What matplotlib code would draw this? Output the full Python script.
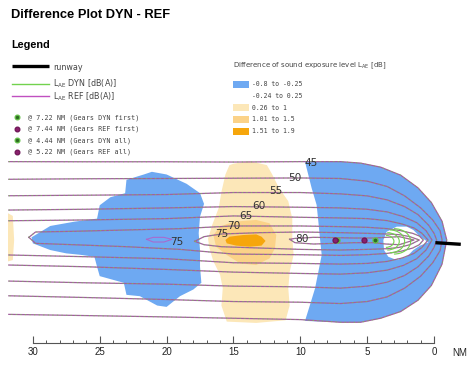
import numpy as np
import matplotlib.pyplot as plt
from matplotlib.lines import Line2D
from matplotlib.patches import Polygon, Rectangle, Arc

W, H = 474, 366

# contour levels LAE [dB(A)]; nodes in NM (x = distance to threshold, y = lateral)
# each contour: upper side and lower side share the same x nodes, last node is the tip
levels = [45, 50, 55, 60, 65, 70, 75, 80]
contour_x = {
    45: [31.8, 26, 20, 15, 10, 7, 5.5, 4, 2.5, 1.2, 0.2, -0.6, -0.95],
    50: [31.8, 26, 20, 15, 10, 7, 5, 3.5, 2.2, 1.0, 0.1, -0.45, -0.6],
    55: [31.8, 26, 20, 15, 10, 7, 5, 3.5, 2.2, 1.2, 0.4, 0, -0.2],
    60: [31.8, 26, 20, 15, 10, 7, 5, 3.5, 2.3, 1.3, 0.6, 0.15],
    65: [31.8, 26, 20, 15, 10, 7, 5, 3.5, 2.4, 1.5, 0.9, 0.45],
    70: [30.3, 29.8, 27, 23, 19, 15, 10, 7, 5, 3.5, 2.5, 1.6, 1.1, 0.8],
    75: [17.9, 17.2, 15.9, 13, 10, 7, 5, 3.5, 2.6, 1.8, 1.1],
    80: [10.8, 10.4, 9, 7.5, 6, 4.5, 3.6, 2.6, 1.5],
}
contour_up = {
    45: [5.86, 5.85, 5.85, 5.83, 5.86, 5.86, 5.75, 5.45, 4.85, 3.9, 2.8, 1.4, 0],
    50: [4.54, 4.58, 4.6, 4.62, 4.64, 4.6, 4.4, 4.0, 3.3, 2.4, 1.5, 0.7, 0],
    55: [3.31, 3.35, 3.4, 3.55, 3.55, 3.45, 3.3, 3.0, 2.5, 1.9, 1.1, 0.5, 0],
    60: [2.24, 2.3, 2.4, 2.5, 2.45, 2.4, 2.3, 2.1, 1.75, 1.3, 0.7, 0],
    65: [1.44, 1.5, 1.6, 1.8, 1.7, 1.65, 1.6, 1.45, 1.2, 0.9, 0.5, 0],
    70: [0.2, 0.6, 0.65, 0.75, 0.85, 1.05, 1.05, 1.0, 0.95, 0.85, 0.7, 0.5, 0.3, 0],
    75: [-0.1, 0.25, 0.45, 0.55, 0.6, 0.55, 0.5, 0.45, 0.4, 0.25, 0],
    80: [0.05, 0.12, 0.2, 0.18, 0.15, 0.15, 0.2, 0.25, 0],
}
contour_lo = {
    45: [-5.56, -5.65, -5.75, -5.85, -5.95, -6.15, -6.15, -5.85, -5.35, -4.5, -3.4, -1.8, 0],
    50: [-4.17, -4.3, -4.45, -4.6, -4.65, -4.75, -4.6, -4.25, -3.6, -2.7, -1.7, -0.8, 0],
    55: [-3.07, -3.2, -3.3, -3.45, -3.5, -3.6, -3.45, -3.15, -2.65, -2.0, -1.2, -0.55, 0],
    60: [-1.87, -2.0, -2.2, -2.4, -2.5, -2.55, -2.45, -2.25, -1.9, -1.4, -0.75, 0],
    65: [-1.12, -1.25, -1.4, -1.7, -1.75, -1.8, -1.75, -1.6, -1.35, -1.0, -0.55, 0],
    70: [0.2, -0.25, -0.35, -0.5, -0.7, -1.05, -1.1, -1.15, -1.1, -1.0, -0.85, -0.6, -0.35, 0],
    75: [-0.1, -0.35, -0.5, -0.6, -0.7, -0.75, -0.7, -0.65, -0.55, -0.35, 0],
    80: [0.05, -0.2, -0.3, -0.25, -0.2, -0.2, -0.3, -0.35, 0],
}
# extra REF-only 75 island
ref75_x = [21.5, 21.0, 20.2, 19.6, 20.2, 21.0, 21.5]
ref75_y = [0.05, 0.2, 0.2, 0.05, -0.15, -0.15, 0.05]

# label positions (NM)
label_text = ['45', '50', '55', '60', '65', '70', '75', '75', '80']
label_x = [9.2, 10.4, 11.8, 13.1, 14.06, 14.96, 15.9, 19.2, 9.87]
label_y = [5.75, 4.67, 3.63, 2.54, 1.8, 1.05, 0.45, -0.15, 0.11]

# DYN-only high level arcs near threshold
arc_arm_x = [3.6, 3.5, 3.3, 3.0]
arc_tip_x = [3.0, 2.6, 2.2, 1.75]
arc_half = [0.45, 0.65, 0.85, 0.95]

# difference areas (NM)
blue_left_x = [30.1, 28.7, 26.9, 25.2, 25.0, 24.2, 23.1, 23.0, 21.7, 21.1, 20.0, 18.5, 17.5, 17.2,
               17.5, 17.6, 17.5, 17.5, 17.4, 18.0, 19.0, 20.0, 20.7, 22.0, 23.0, 23.2, 25.0, 25.2,
               25.4, 26.5, 27.5, 28.7, 30.0]
blue_left_y = [0.2, 1.05, 1.37, 1.6, 2.6, 3.2, 3.5, 4.5, 4.9, 5.1, 4.9, 4.2, 3.5, 2.7,
               1.75, 0.5, -0.75, -2.0, -3.2, -3.7, -4.2, -5.0, -4.9, -4.2, -4.1, -3.2, -2.7, -2.0,
               -1.25, -1.1, -1.0, -0.75, -0.25]
blue_right_x = [9.65, 9.4, 9.15, 8.78, 8.65, 8.53, 8.4, 8.65, 8.9, 9.28, 9.65, 7.0, 5.5, 4, 2.5,
                1.2, 0.2, -0.6, -0.95, -0.6, 0.2, 1.2, 2.5, 4, 5.5, 7.0]
blue_right_y = [5.86, 4.86, 3.87, 2.62, 1.37, 0.12, -1.12, -2.37, -3.62, -4.86, -6.05, -6.15, -6.15,
                -5.85, -5.35, -4.5, -3.4, -1.8, 0, 1.4, 2.8, 3.9, 4.85, 5.45, 5.75, 5.86]
white_x = [3.79, 3.54, 2.79, 2.04, 1.55, 1.05, 0.42, 1.05, 1.55, 2.04, 2.79, 3.42, 3.74]
white_y = [0, 0.62, 1.0, 1.0, 0.75, 0.25, -0.17, -0.42, -0.75, -1.25, -1.5, -1.25, -0.75]
light_x = [15.0, 13.8, 12.5, 12.1, 11.6, 10.9, 10.6, 10.6, 10.5, 10.8, 10.9, 10.8, 11.1, 13.3, 15.5,
           15.9, 15.8, 16.0, 16.5, 16.8, 16.9, 16.6, 16.1, 15.9, 15.6, 15.3]
light_y = [5.7, 5.9, 5.6, 4.9, 3.9, 2.9, 1.6, 0.1, -1.1, -2.4, -3.6, -4.9, -6.0, -6.2, -6.1,
           -4.9, -3.6, -2.6, -1.6, -0.6, 0.1, 1.1, 2.4, 3.6, 4.9, 5.6]
light_edge_x = [31.86, 31.5, 31.4, 31.5, 31.86]
light_edge_y = [2.0, 1.8, 0.0, -1.5, -1.6]
mid_x = [16.5, 16.0, 15.0, 13.3, 12.3, 11.8, 11.9, 12.3, 13.3, 14.5, 15.5, 16.3]
mid_y = [0.37, 1.0, 1.37, 1.5, 1.25, 0.37, -0.62, -1.37, -1.87, -1.75, -1.12, -0.5]
orange_x = [15.6, 15.3, 14.3, 13.3, 12.9, 12.6, 12.9, 13.8, 14.8, 15.5]
orange_y = [0, 0.25, 0.37, 0.42, 0.25, -0.07, -0.42, -0.5, -0.42, -0.25]

class_labels = ['-0.8 to -0.25', '-0.24 to 0.25', '0.26 to 1', '1.01 to 1.5', '1.51 to 1.9']
class_colors = ['#6ea9f2', '#ffffff', '#fce7b8', '#fbd288', '#f6a60c']

# gear extension points
gear_nm = [7.22, 7.44, 4.44, 5.22]
gear_labels = ['@ 7.22 NM (Gears DYN first)', '@ 7.44 NM (Gears REF first)',
               '@ 4.44 NM (Gears DYN all)', '@ 5.22 NM (Gears REF all)']
gear_case = ['DYN', 'REF', 'DYN', 'REF']

runway_x = [-0.1, -2.0]
runway_y = [-0.2, -0.32]

GREEN = '#72d24e'
MAGENTA = '#c050c0'
LINE_REF = '#a2609e'
dot_face = {'DYN': '#2f6b22', 'REF': '#8a1f6c'}
dot_edge = {'DYN': '#62c048', 'REF': '#6e1556'}
TXT = '#444444'


def fx(px):
    return px / W


def fy(py):
    return 1 - py / H


fig = plt.figure(figsize=(W / 100, H / 100), dpi=100)
ax = fig.add_axes([8 / W, (H - 343) / H, 458 / W, 193 / H])
ax.set_xlim(31.86, -2.39)
ax.set_ylim(-7.70, 6.73)

# areas
ax.add_patch(Polygon(np.column_stack([light_x, light_y]), closed=True, fc=class_colors[2], ec='none', zorder=1))
ax.add_patch(Polygon(np.column_stack([light_edge_x, light_edge_y]), closed=True, fc=class_colors[2], ec='none', zorder=1))
ax.add_patch(Polygon(np.column_stack([mid_x, mid_y]), closed=True, fc=class_colors[3], ec='none', zorder=1.1))
ax.add_patch(Polygon(np.column_stack([orange_x, orange_y]), closed=True, fc=class_colors[4], ec='none', zorder=1.2))
ax.add_patch(Polygon(np.column_stack([blue_left_x, blue_left_y]), closed=True, fc=class_colors[0], ec='none', zorder=1))
ax.add_patch(Polygon(np.column_stack([blue_right_x, blue_right_y]), closed=True, fc=class_colors[0], ec='none', zorder=1))
ax.add_patch(Polygon(np.column_stack([white_x, white_y]), closed=True, fc='white', ec='none', zorder=1.3))

# contours: REF solid purple, DYN fine green dashes on top (the two nearly coincide)
for lv in levels:
    xs = contour_x[lv] + contour_x[lv][::-1]
    ys = contour_up[lv] + contour_lo[lv][::-1]
    ax.plot(xs, ys, color=LINE_REF, lw=0.9, zorder=2)
    ax.plot(xs, ys, color=GREEN, lw=0.7, dashes=(1.2, 3.5), alpha=0.8, zorder=2.1)
ax.plot(ref75_x, ref75_y, color=MAGENTA, lw=0.8, alpha=0.7, zorder=2)

for ax_x, tx, hh in zip(arc_arm_x, arc_tip_x, arc_half):
    ax.add_patch(Arc((ax_x, -0.1), 2 * (ax_x - tx), 2 * hh, theta1=90, theta2=270,
                     color=GREEN, lw=0.8, zorder=2.2))

for t, x, y in zip(label_text, label_x, label_y):
    ax.text(x, y, t, ha='center', va='center', fontsize=7.6, color='#333333', zorder=3)

# gear markers
for nm, case in zip(gear_nm, gear_case):
    ax.plot(nm, 0, 'o', ms=3.6, mfc=dot_face[case], mec=dot_edge[case], mew=0.9, zorder=4)

ax.plot(runway_x, runway_y, color='black', lw=2.4, solid_capstyle='butt', zorder=4)

# scale bar
for s in ['top', 'left', 'right']:
    ax.spines[s].set_visible(False)
ax.spines['bottom'].set_bounds(0, 30)
ax.spines['bottom'].set_color('#555555')
ax.spines['bottom'].set_linewidth(0.8)
ax.set_xticks(range(0, 31, 5))
ax.set_xticks(range(0, 31), minor=True)
ax.set_yticks([])
ax.tick_params(axis='x', which='major', direction='in', length=5, width=0.8, color='#555555',
               labelsize=7, labelcolor='#222222', pad=3)
ax.tick_params(axis='x', which='minor', direction='in', length=2.5, width=0.7, color='#555555')
for lab in ax.get_xticklabels():
    lab.set_family('Liberation Sans')
fig.text(fx(460), fy(353), 'NM', ha='center', va='center', fontsize=7,
         family='Liberation Sans', color='#222222')

# titles
fig.text(fx(11), fy(15), 'Difference Plot DYN - REF', fontsize=9.3, fontweight='bold',
         family='Liberation Sans', va='center', ha='left')
fig.text(fx(11), fy(45), 'Legend', fontsize=7.8, fontweight='bold',
         family='Liberation Sans', va='center', ha='left')

# left legend
fig.add_artist(Line2D([fx(12), fx(49)], [fy(66), fy(66)], color='black', lw=2.4,
                      solid_capstyle='butt', transform=fig.transFigure))
fig.add_artist(Line2D([fx(12), fx(49)], [fy(84), fy(84)], color=GREEN, lw=1.0, transform=fig.transFigure))
fig.add_artist(Line2D([fx(12), fx(49)], [fy(96), fy(96)], color=MAGENTA, lw=1.0, transform=fig.transFigure))
fig.text(fx(53), fy(67), 'runway', fontsize=5.8, color=TXT, va='center')
fig.text(fx(53), fy(84), r'L$_{\mathregular{AE}}$ DYN [dB(A)]', fontsize=5.8, color=TXT, va='center')
fig.text(fx(53), fy(97), r'L$_{\mathregular{AE}}$ REF [dB(A)]', fontsize=5.8, color=TXT, va='center')
for i, (lab, case) in enumerate(zip(gear_labels, gear_case)):
    py = 117.3 + i * 11.5
    fig.add_artist(Line2D([fx(17)], [fy(py)], marker='o', ms=3.4, mfc=dot_face[case],
                          mec=dot_edge[case], mew=0.9, transform=fig.transFigure))
    fig.text(fx(28), fy(py), lab, fontsize=4.9, family='DejaVu Sans Mono', color=TXT, va='center')

# right legend
fig.text(fx(233), fy(66), r'Difference of sound exposure level L$_{\mathregular{AE}}$ [dB]',
         fontsize=5.0, color=TXT, va='center')
for i, (lab, col) in enumerate(zip(class_labels, class_colors)):
    py = 84.3 + i * 11.7
    fig.add_artist(Rectangle((fx(233), fy(py + 3.4)), 16 / W, 6.8 / H, fc=col, ec='none',
                             transform=fig.transFigure))
    fig.text(fx(252), fy(py), lab, fontsize=4.7, family='DejaVu Sans Mono', color=TXT, va='center')

fig.savefig('out.png', dpi=100)
